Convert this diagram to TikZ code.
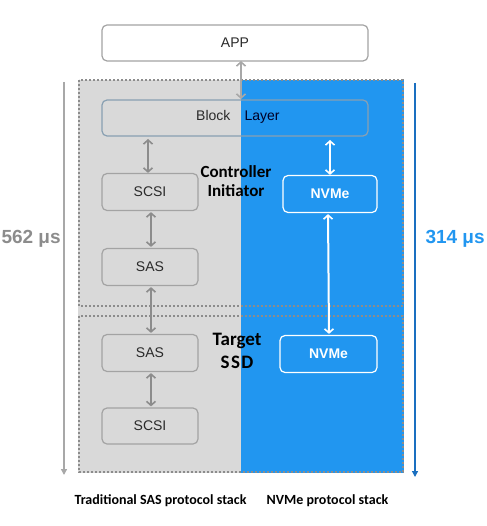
\documentclass[tikz,border=0pt]{standalone}
\usepackage{fontspec}
\setmainfont{Liberation Sans}
\newfontfamily\carlitofont{Carlito}
\usetikzlibrary{arrows.meta}
\definecolor{bgray}{HTML}{D9D9D9}
\definecolor{bblue}{HTML}{2196F0}
\definecolor{dblue}{HTML}{1A6FC0}
\definecolor{agray}{HTML}{8C8C8C}
\definecolor{lgray}{HTML}{A8A8A8}
\definecolor{bordgray}{HTML}{A3A3A3}
\definecolor{txt}{HTML}{2A2A2A}
\tikzset{
  graybox/.style={draw=bordgray, line width=1.2pt, rounded corners=5pt, fill=bgray, inner sep=0pt},
  bluebox/.style={draw=white, line width=1.2pt, rounded corners=5pt, fill=bblue, inner sep=0pt},
  lbl/.style={font=\fontsize{14}{16}\selectfont, text=txt},
  wlbl/.style={font=\fontsize{14}{16}\selectfont\bfseries, text=white},
  garrow/.style={draw=agray, line width=2.4pt, {Straight Barb[length=4pt,width=9pt,line width=1.6pt]}-{Straight Barb[length=4pt,width=9pt,line width=1.6pt]}},
  warrow/.style={draw=white, line width=2pt, {Straight Barb[length=4pt,width=9pt,line width=1.6pt]}-{Straight Barb[length=4pt,width=9pt,line width=1.6pt]}},
  dotline/.style={draw=agray, line width=1.8pt, dash pattern=on 1.8pt off 2.2pt},
  caltext/.style={font=\carlitofont\bfseries\fontsize{17}{19}\selectfont, text=black, align=center},
}
\begin{document}
\begin{tikzpicture}[x=1pt,y=-1pt]
\useasboundingbox (0,0) rectangle (486,526);
% backgrounds
\fill[bgray] (78,80) rectangle (241,473);
\fill[bblue] (241,80) rectangle (404,473);
% dotted boxes
\draw[dotline] (79,80) rectangle (403,306);
\draw[dotline] (79,316) rectangle (403,472);
% APP
\node[graybox, fill=white, minimum width=266pt, minimum height=36pt, lbl] (app) at (235,43) {APP};
% Block layer
\node[draw=bordgray!80!bblue, line width=1.2pt, rounded corners=5pt, inner sep=0pt, minimum width=266pt, minimum height=36pt] (block) at (235,118) {};
\node[lbl, anchor=base east] (blk1) at (234,121) {Block};
\node[lbl, anchor=base west, text=black!85!blue] (blk2) at (241,121) {Layer};
% left stack
\node[graybox, minimum width=96pt, minimum height=37pt, lbl] (scsi1) at (150,192) {SCSI};
\node[graybox, minimum width=96pt, minimum height=37pt, lbl] (sas1) at (150,267) {SAS};
\node[graybox, minimum width=96pt, minimum height=37pt, lbl] (sas2) at (150,353) {SAS};
\node[graybox, minimum width=96pt, minimum height=36pt, lbl] (scsi2) at (150,426) {SCSI};
% right stack
\node[bluebox, minimum width=94pt, minimum height=37pt, wlbl] (nvme1) at (330,194) {NVMe};
\node[bluebox, minimum width=97pt, minimum height=37pt, wlbl] (nvme2) at (328.5,354) {NVMe};
% labels
\node[caltext] (ctrl) at (236,181) {Controller\\[0pt]Initiator};
\node[caltext, font=\carlitofont\bfseries\fontsize{19}{21}\selectfont] (tgt) at (237,351) {Target\\[2pt]S\kern1.5pt S\kern1.5pt D};
% arrows gray
\coordinate (appb) at (241,61);
\coordinate (blkt) at (241,99);
\draw[garrow, draw=lgray, line width=2pt] (appb) -- (blkt);
\coordinate (bs) at (148,139);
\draw[garrow] (bs) -- (bs |- scsi1.north);
\draw[garrow] ([yshift=-1pt,xshift=1pt]scsi1.south) -- ([yshift=1pt,xshift=1pt]sas1.north);
\draw[garrow] ([yshift=-1pt,xshift=1pt]sas1.south) -- ([yshift=1pt,xshift=1pt]sas2.north);
\draw[garrow] ([yshift=-1pt,xshift=1pt]sas2.south) -- ([yshift=1pt,xshift=1pt]scsi2.north);
% arrows white
\coordinate (bw) at (330,140);
\draw[warrow] (bw) -- (bw |- nvme1.north);
\draw[warrow] ([xshift=-2pt,yshift=-1pt]nvme1.south) -- ([xshift=-1pt,yshift=1pt]nvme1.south |- nvme2.north);
% side lines
\coordinate (lt) at (64,82);
\coordinate (lb) at (64,475);
\draw[lgray, line width=1.3pt, -{Triangle[length=6pt,width=6pt]}] (lt) -- (lb);
\coordinate (rt) at (415,83);
\coordinate (rb) at (415,477);
\draw[dblue, line width=1.3pt, -{Triangle[length=6pt,width=6pt]}] (rt) -- (rb);
% latency labels
\node[font=\fontsize{19}{21}\selectfont\bfseries, text=agray, anchor=west] (t562) at (-2,239) {562 μs};
\node[font=\fontsize{19}{21}\selectfont\bfseries, text=bblue, anchor=west] (t314) at (422,239) {314 μs};
% bottom
\node[font=\carlitofont\bfseries\fontsize{14}{16}\selectfont] (trad) at (160.5,501) {Traditional SAS protocol stack};
\node[font=\carlitofont\bfseries\fontsize{14}{16}\selectfont] (nvst) at (327.5,501) {NVMe protocol stack};
\end{tikzpicture}
\end{document}
